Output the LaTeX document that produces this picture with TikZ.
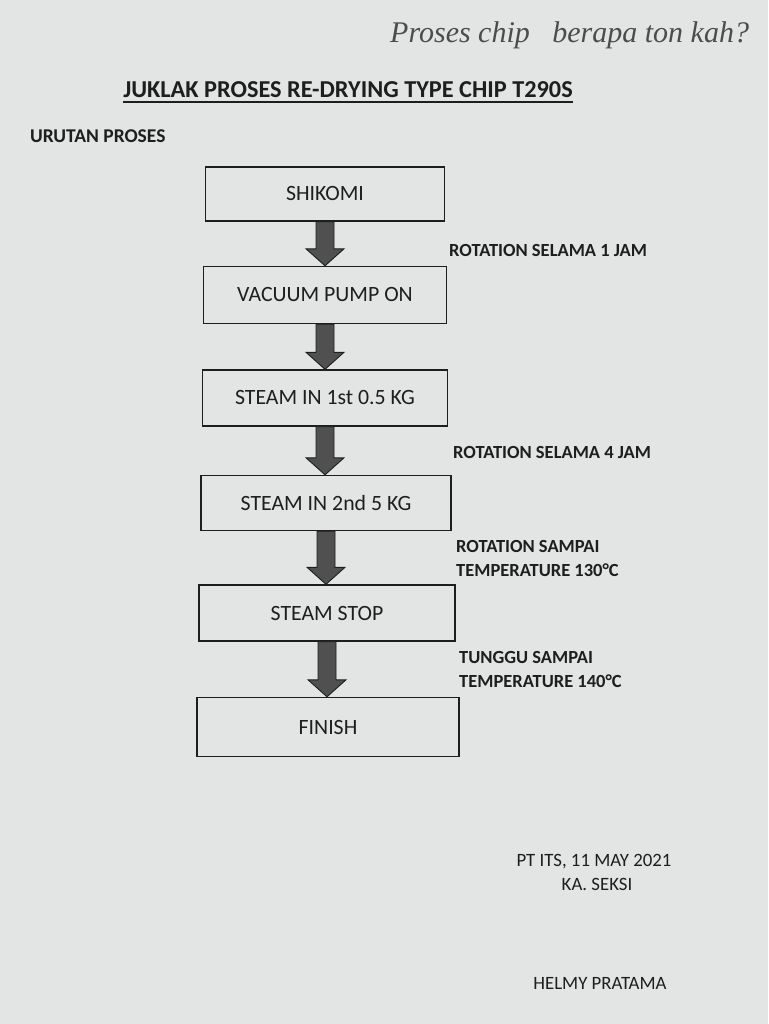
\documentclass[tikz,border=0pt]{standalone}
\usepackage{fontspec}
\setmainfont{Carlito}
\newfontfamily\handfont{Liberation Serif}
\usetikzlibrary{calc}
\definecolor{paper}{RGB}{226,229,228}
\definecolor{ink}{RGB}{30,30,30}
\definecolor{arrowgray}{RGB}{80,80,80}
\newcommand\fatarr[2]{%
  \filldraw[arrowsty] let \p1=(#1.south), \p2=(#2.north) in
  ({\x1-9pt},\y1) -- ({\x1-9pt},{\y2+17pt}) -- ({\x1-19pt},{\y2+17pt}) -- (\x1,\y2)
  -- ({\x1+19pt},{\y2+17pt}) -- ({\x1+9pt},{\y2+17pt}) -- ({\x1+9pt},\y1) -- cycle;}
\begin{document}
\begin{tikzpicture}[x=1pt,y=-1pt,
  stepbox/.style={draw=ink, line width=1.4pt, fill=paper, minimum height=55pt, inner sep=0pt,
    font=\fontsize{21.8}{24}\selectfont, text=ink},
  note/.style={anchor=west, font=\bfseries\fontsize{18.5}{24}\selectfont, align=left, text=ink, inner sep=0pt},
  plain/.style={anchor=base, font=\fontsize{18.8}{22}\selectfont, text=ink, inner sep=0pt},
  arrowsty/.style={fill=arrowgray, draw=ink, line width=0.9pt, line join=miter}]
\fill[paper] (0,0) rectangle (768,1024);
\useasboundingbox (0,0) rectangle (768,1024);
% handwritten note
\node[anchor=base west, inner sep=0pt, font=\handfont\itshape\fontsize{30}{33}\selectfont, text=black!70] (hand) at (390,43) {Proses chip\ \ \ berapa ton kah?};
% title
\node[anchor=base, inner sep=0pt, font=\bfseries\fontsize{24.3}{28}\selectfont, text=ink] (title) at (348,98) {JUKLAK PROSES RE-DRYING TYPE CHIP T290S};
\draw[ink, line width=1.8pt] ([yshift=-4pt]title.south west) -- ([yshift=-4pt]title.south east);
\node[anchor=base west, inner sep=0pt, font=\bfseries\fontsize{19.5}{22}\selectfont, text=ink] (sub) at (30,143) {URUTAN PROSES};
% steps
\node[stepbox, minimum width=239pt, minimum height=54pt] (s1) at (325,194) {SHIKOMI};
\node[stepbox, minimum width=243pt, minimum height=57pt] (s2) at (325,295) {VACUUM PUMP ON};
\node[stepbox, minimum width=245pt, minimum height=56pt] (s3) at (325,398) {STEAM IN 1st 0.5 KG};
\node[stepbox, minimum width=250pt] (s4) at (326,503) {STEAM IN 2nd 5 KG};
\node[stepbox, minimum width=256pt, minimum height=56pt] (s5) at (327,613) {STEAM STOP};
\node[stepbox, minimum width=262pt, minimum height=59pt] (s6) at (328,727) {FINISH};
% arrows
\fatarr{s1}{s2}
\fatarr{s2}{s3}
\fatarr{s3}{s4}
\fatarr{s4}{s5}
\fatarr{s5}{s6}
% notes
\node[note] (n1) at (449,250) {ROTATION SELAMA 1 JAM};
\node[note] (n2) at (453,452) {ROTATION SELAMA 4 JAM};
\node[note] (n3) at (456,558) {ROTATION SAMPAI\\TEMPERATURE 130°C};
\node[note] (n4) at (459,669) {TUNGGU SAMPAI\\TEMPERATURE 140°C};
% signature
\node[plain] (date) at (594,866) {PT ITS, 11 MAY 2021};
\node[plain] (role) at (597,890) {KA. SEKSI};
\node[plain] (name) at (600,989) {HELMY PRATAMA};
\end{tikzpicture}
\end{document}
